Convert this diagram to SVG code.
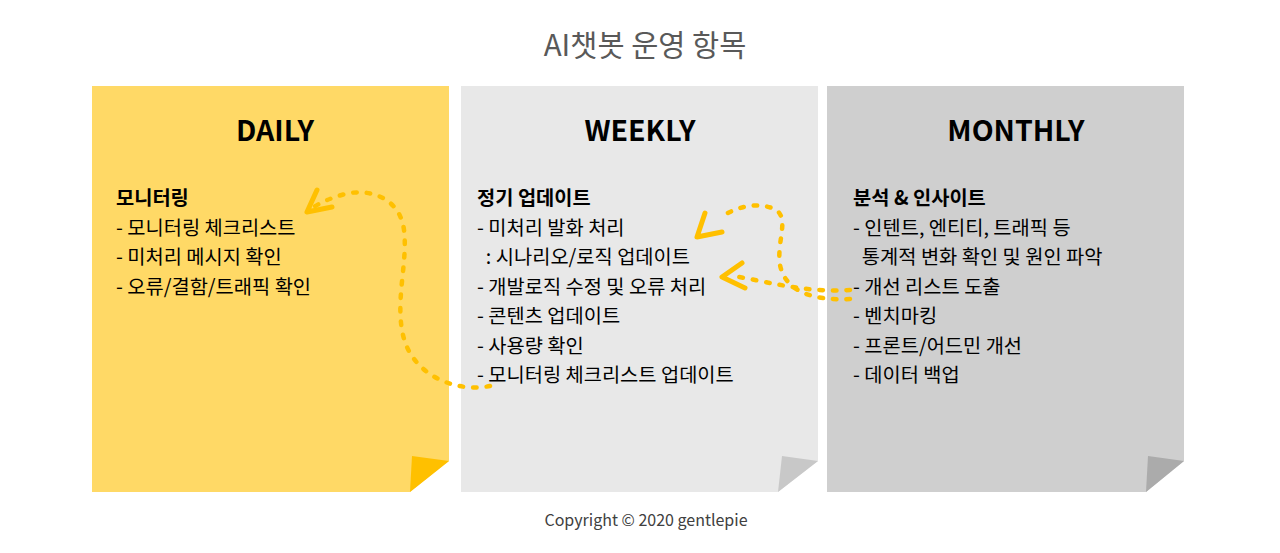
<svg xmlns="http://www.w3.org/2000/svg" width="1280" height="553" viewBox="0 0 1280 553">
<style>
text{font-family:"Noto Sans CJK KR","Noto Sans",sans-serif;}
.title{font-size:29.5px;fill:#595959;text-anchor:middle;}
.head{font-size:28.5px;font-weight:700;fill:#000;text-anchor:middle;}
.sub{font-size:19.8px;font-weight:700;fill:#000;}
.body{font-size:19.8px;fill:#000;}
.copy{font-size:16px;fill:#404040;text-anchor:middle;}
.dots{fill:none;stroke:#FFC000;stroke-width:4.5;stroke-linecap:round;stroke-dasharray:3.5 10;}
.head-arrow{fill:none;stroke:#FFC000;stroke-width:5;stroke-linecap:round;stroke-linejoin:round;}
</style>
<rect width="1280" height="553" fill="#fff"/>
<text class="title" x="645" y="56">AI챗봇 운영 항목</text>

<g id="daily">
<polygon points="92,86 449,86 449,461 410,492 92,492" fill="#FFD966"/>
<polygon points="412,456 449,461 410,492" fill="#FFC000"/>
<text class="head" x="275" y="141">DAILY</text>
<text class="sub" x="116" y="205">모니터링</text>
<text class="body" x="116" y="235">- 모니터링 체크리스트</text>
<text class="body" x="116" y="264">- 미처리 메시지 확인</text>
<text class="body" x="116" y="294">- 오류/결함/트래픽 확인</text>
</g>

<g id="weekly">
<polygon points="461,86 818,86 818,461 778,492 461,492" fill="#E8E8E8"/>
<polygon points="782,456 818,461 778,492" fill="#C8C8C8"/>
<text class="head" x="640" y="141">WEEKLY</text>
<text class="sub" x="477" y="205">정기 업데이트</text>
<text class="body" x="477" y="235">- 미처리 발화 처리</text>
<text class="body" x="477" y="264" xml:space="preserve">  : 시나리오/로직 업데이트</text>
<text class="body" x="477" y="294">- 개발로직 수정 및 오류 처리</text>
<text class="body" x="477" y="323">- 콘텐츠 업데이트</text>
<text class="body" x="477" y="353">- 사용량 확인</text>
<text class="body" x="477" y="382">- 모니터링 체크리스트 업데이트</text>
</g>

<g id="monthly">
<polygon points="827,86 1184,86 1184,461 1146,492 827,492" fill="#CFCFCF"/>
<polygon points="1148,456 1184,461 1146,492" fill="#ABABAB"/>
<text class="head" x="1016" y="141">MONTHLY</text>
<text class="sub" x="853" y="205">분석 &amp; 인사이트</text>
<text class="body" x="853" y="235">- 인텐트, 엔티티, 트래픽 등</text>
<text class="body" x="853" y="264" xml:space="preserve">  통계적 변화 확인 및 원인 파악</text>
<text class="body" x="853" y="294">- 개선 리스트 도출</text>
<text class="body" x="853" y="323">- 벤치마킹</text>
<text class="body" x="853" y="353">- 프론트/어드민 개선</text>
<text class="body" x="853" y="382">- 데이터 백업</text>
</g>

<g id="connectors">
<path class="dots" d="M490,386 C455,393 412,375 403,335 C395,300 408,262 404,230 C400,198 370,188 345,194 C330,198 320,203 314,207"/>
<polyline class="head-arrow" points="317,190 307,212 332,207"/>
<path class="dots" d="M850,299 C810,301 785,290 780,265 C776,240 792,215 772,208 C755,202 735,207 720,218"/>
<polyline class="head-arrow" points="705,213 697,237 722,232"/>
<path class="dots" d="M850,290 C815,292 790,287 760,281 C750,279 740,277 732,276"/>
<polyline class="head-arrow" points="742,263 722,277 745,288"/>
</g>

<text class="copy" x="646" y="526">Copyright © 2020 gentlepie</text>
</svg>
